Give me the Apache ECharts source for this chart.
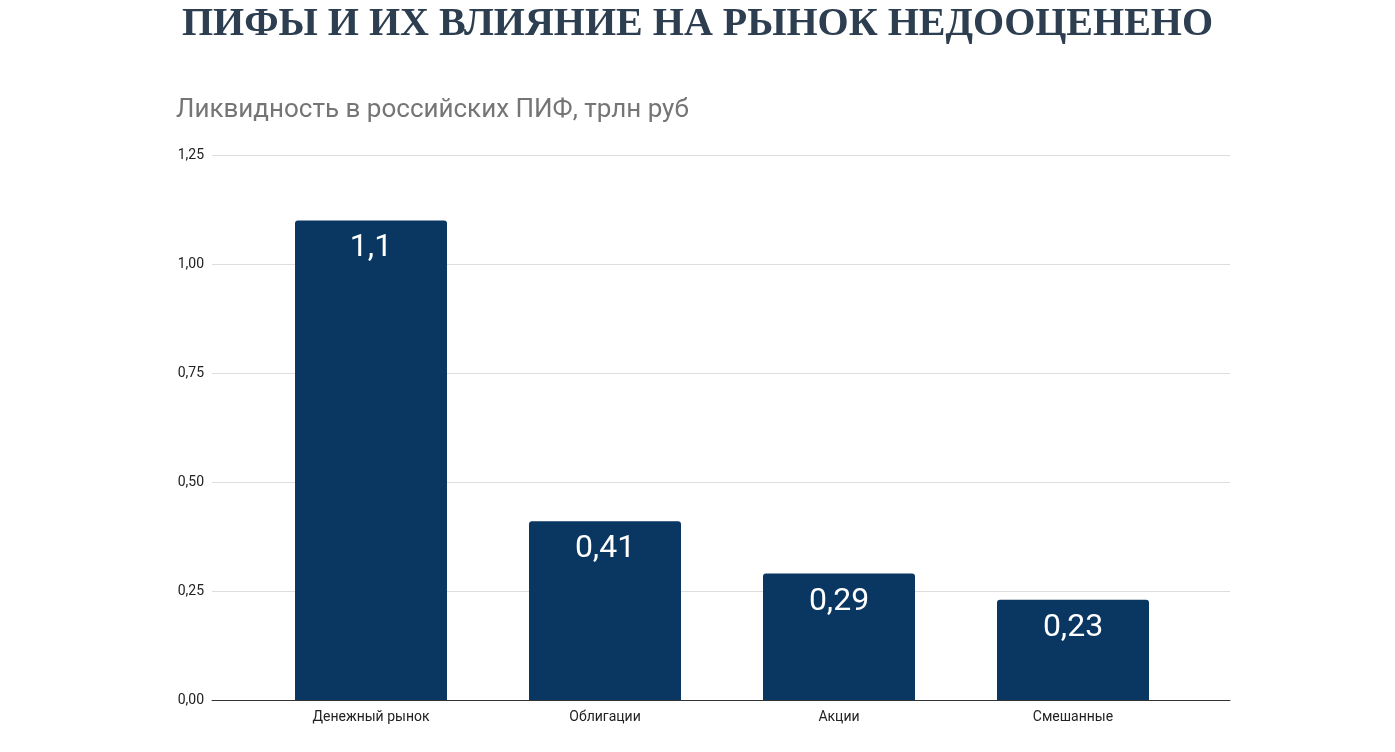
<!DOCTYPE html>
<html><head><meta charset="utf-8">
<script src="https://cdn.jsdelivr.net/npm/echarts@6/dist/echarts.min.js"></script>
<style>html,body{margin:0;padding:0;background:#fff}#c{width:1395px;height:752px}</style>
</head><body><div id="c"></div>
<script>
const categories = ['Денежный рынок','Облигации','Акции','Смешанные'];
const values = [1.1, 0.41, 0.29, 0.23];
const fmt = v => String(v).replace('.', ',');
const chart = echarts.init(document.getElementById('c'));
chart.setOption({
  animation:false,
  title:[
    {text:'ПИФЫ И ИХ ВЛИЯНИЕ НА РЫНОК НЕДООЦЕНЕНО',left:'center',top:0,
     textStyle:{fontFamily:'Liberation Serif',fontWeight:'bold',fontSize:40,color:'#2c3e50'}},
    {text:'Ликвидность в российских ПИФ, трлн руб',left:171,top:92,
     textStyle:{fontFamily:'Roboto',fontWeight:'normal',fontSize:26,color:'#757575'}}
  ],
  grid:[{left:212,right:165,top:155,bottom:52},{left:254,right:205,top:155,bottom:52}],
  xAxis:[
    {gridIndex:0,type:'value',min:0,max:1,axisLabel:{show:false},axisTick:{show:false},
     splitLine:{show:false},axisLine:{show:true,onZero:false,lineStyle:{color:'#333'}}},
    {gridIndex:1,type:'category',data:categories,
     axisLine:{show:false},axisTick:{show:false},
     axisLabel:{color:'#222',fontFamily:'Roboto',fontSize:14,margin:10}}
  ],
  yAxis:[
    {gridIndex:0,type:'value',min:0,max:1.25,interval:0.25,axisLine:{show:false},axisTick:{show:false},
     axisLabel:{color:'#222',fontFamily:'Roboto',fontSize:14,margin:8,
       formatter:v=>v.toFixed(2).replace('.',',')},
     splitLine:{lineStyle:{color:'#dddddd'}}},
    {gridIndex:1,type:'value',min:0,max:1.25,interval:0.25,show:false,splitLine:{show:false}}
  ],
  series:[{type:'bar',xAxisIndex:1,yAxisIndex:1,data:values,barWidth:152,
    itemStyle:{color:'#0a3762',borderRadius:[3,3,0,0]},
    label:{show:true,position:'insideTop',distance:12,color:'#fff',fontFamily:'Roboto',fontSize:32,
      formatter:p=>fmt(p.value)}}]
});
</script></body></html>
